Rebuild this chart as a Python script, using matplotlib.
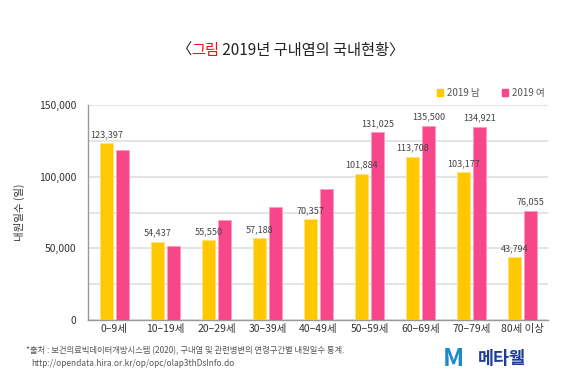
import matplotlib.pyplot as plt
import numpy as np
from matplotlib.patches import Patch

plt.rcParams['font.family'] = ['Noto Sans CJK KR', 'DejaVu Sans']

# data
ages = ["0–9세", "10–19세", "20–29세", "30–39세", "40–49세",
        "50–59세", "60–69세", "70–79세", "80세 이상"]
male = [123397, 54437, 55550, 57188, 70357, 101884, 113708, 103177, 43794]
female = [118500, 51500, 70000, 78700, 91200, 131025, 135500, 134921, 76055]
female_labeled = [False, False, False, False, False, True, True, True, True]

YELLOW = "#FFC800"
PINK = "#F7468A"
TXT = "#333333"


def main():
    fig = plt.figure(figsize=(5.74, 3.89), dpi=100)
    ax = fig.add_axes([0.153, 0.177, 0.802, 0.553])

    x = np.arange(len(ages))
    w = 0.25
    off = 0.155
    ax.bar(x - off, male, w, color=YELLOW, edgecolor="#FFE27A", linewidth=0.6, zorder=3)
    ax.bar(x + off, female, w, color=PINK, edgecolor="#FF9CC0", linewidth=0.6, zorder=3)

    for i, v in enumerate(male):
        ax.text(x[i] - off, v + 3000, f"{v:,}", ha="center", va="bottom",
                fontsize=6.5, color="#444444")
    for i, v in enumerate(female):
        if female_labeled[i]:
            ax.text(x[i] + off, v + 3000, f"{v:,}", ha="center", va="bottom",
                    fontsize=6.5, color="#444444")

    ax.set_xlim(-0.52, 8.5)
    ax.set_ylim(0, 150000)
    ax.set_yticks([0, 50000, 100000, 150000])
    ax.set_yticklabels(["0", "50,000", "100,000", "150,000"], fontsize=7.5, color=TXT)
    ax.set_yticks(np.arange(0, 150001, 25000), minor=True)
    ax.grid(axis="y", which="both", color="#E4E4E4", linewidth=1.4, zorder=0)
    ax.tick_params(axis="y", which="both", length=0, pad=8)
    ax.set_xticks(x)
    ax.set_xticklabels(ages, fontsize=7.5, color=TXT)
    ax.tick_params(axis="x", length=0, pad=3)
    for s in ["top", "right"]:
        ax.spines[s].set_visible(False)
    ax.spines["left"].set_color("#999999")
    ax.spines["bottom"].set_color("#999999")
    ax.spines["left"].set_linewidth(1.0)
    ax.spines["bottom"].set_linewidth(1.0)
    ax.set_ylabel("내원일수 (일)", fontsize=7.5, color=TXT, labelpad=10)

    handles = [Patch(color=YELLOW), Patch(color=PINK)]
    fig.legend(handles, ["2019 남", "2019 여"], loc="center right",
               bbox_to_anchor=(0.965, 0.762), ncol=2, frameon=False,
               fontsize=7, handlelength=0.7, handleheight=0.7,
               handletextpad=0.4, columnspacing=2.2, labelcolor="#555555")

    # title
    title_y = 1 - 50 / 389
    parts = [("〈", "#222222"), ("그림", "#E8151B"), (" 2019년 구내염의 국내현황〉", "#222222")]
    fig.canvas.draw()
    r = fig.canvas.get_renderer()
    texts = []
    for s, c in parts:
        t = fig.text(0, title_y, s, fontsize=11, color=c, va="center", ha="left")
        texts.append(t)
    widths = [t.get_window_extent(r).width for t in texts]
    total = sum(widths)
    start = (574 * 0.505 - total / 2)
    for t, wd in zip(texts, widths):
        t.set_x(start / 574)
        start += wd

    # footnote
    fig.text(26 / 574, 1 - 351 / 389,
             "*출처 : 보건의료빅데이터개방시스템 (2020), 구내염 및 관련병변의 연령구간별 내원일수 통계.",
             fontsize=6, color="#555555", va="center")
    fig.text(31 / 574, 1 - 364 / 389, "http://opendata.hira.or.kr/op/opc/olap3thDsInfo.do",
             fontsize=6, color="#555555", va="center")

    # logo
    fig.text(443 / 574, 1 - 359 / 389, "M", fontsize=18, fontweight="bold",
             color="#1C8ACB", va="center", ha="left")
    fig.text(478 / 574, 1 - 359 / 389, "메타웰", fontsize=12.5, fontweight="bold",
             color="#1E3E96", va="center", ha="left")

    fig.savefig("out.png", dpi=100)
    plt.close(fig)


if __name__ == "__main__":
    main()
